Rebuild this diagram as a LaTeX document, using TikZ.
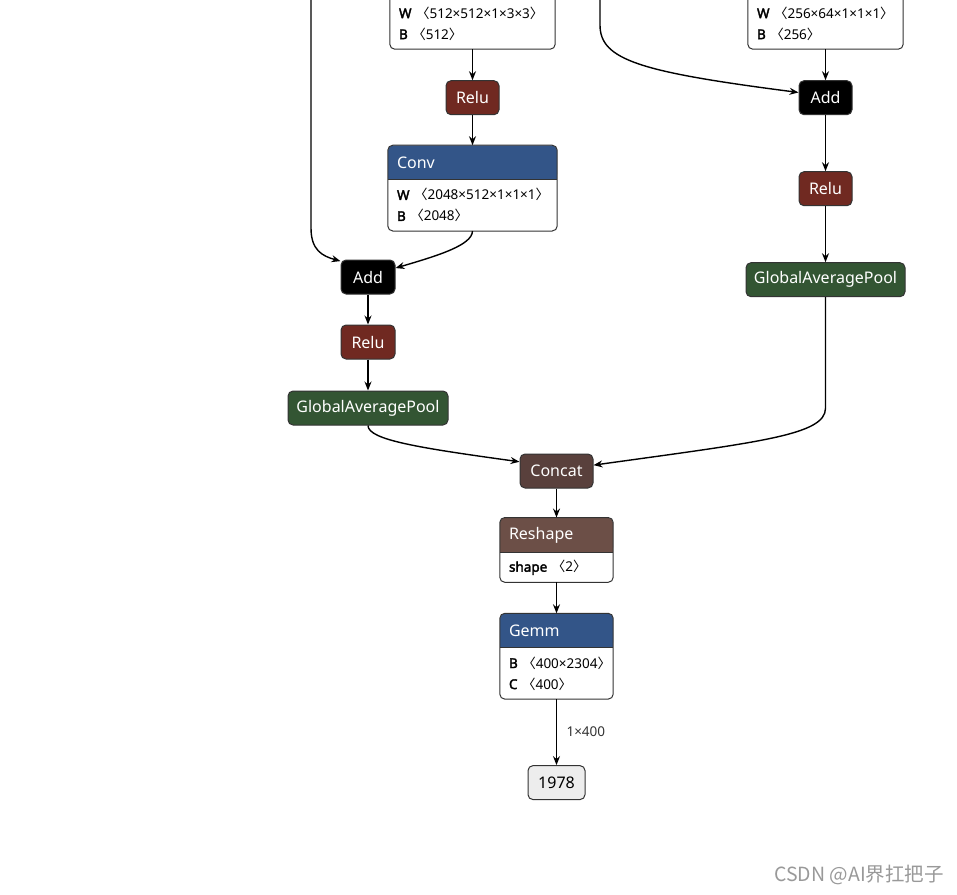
\documentclass[tikz,border=0pt]{standalone}
\usepackage{fontspec}
\setmainfont{Noto Sans}[AutoFakeBold=2.5]
\newfontfamily\cjk{Noto Sans CJK SC}
\usetikzlibrary{arrows.meta, backgrounds, fit, positioning}
\definecolor{convblue}{RGB}{51,85,136}
\definecolor{relured}{RGB}{112,41,33}
\definecolor{poolgreen}{RGB}{51,85,51}
\definecolor{reshapebrown}{RGB}{108,79,71}
\definecolor{concatbrown}{RGB}{89,64,60}
\definecolor{edgegray}{RGB}{51,51,51}
\newcommand{\dimopen}{{\cjk 〈}}
\newcommand{\dimclose}{{\cjk 〉}}

\begin{document}
\begin{tikzpicture}[x=1pt, y=-1pt]
\tikzstyle{op}=[rectangle, rounded corners=5pt, draw=edgegray, line width=1pt, minimum height=34pt, inner xsep=7pt, text=white, font=\fontsize{16}{19}\selectfont]
\tikzstyle{hdr}=[rectangle, rounded corners=5pt, minimum height=34pt, inner xsep=9pt, align=left, text=white, font=\fontsize{16}{19}\selectfont]
\tikzstyle{attr}=[rectangle, inner xsep=9pt, inner ysep=0pt, align=left, font=\fontsize{13.5}{21}\selectfont]
\tikzstyle{frame}=[rectangle, rounded corners=5pt, draw=edgegray, line width=1pt, inner sep=0pt]
\tikzstyle{connect}=[-{Stealth[length=9pt, width=7pt, inset=3pt]}, line width=1.4pt]
  \useasboundingbox (0,0) rectangle (957,894);
  \clip (0,0) rectangle (957,894);
  % left branch
  \node[attr, text width=147pt, minimum height=51pt] (convlattr) at (472.5,23.5) {\textbf{W}~\dimopen512×512×1×3×3\dimclose\\\textbf{B}~\dimopen512\dimclose};
  \coordinate (convltop) at (390,-40);
  \node[frame, fit=(convltop) (convlattr)] {};
  \node[op, fill=relured, minimum width=53pt, below=31pt of convlattr] (relu1) {Relu};
  \node[hdr, fill=convblue, text width=151pt, below=30pt of relu1] (conv) {Conv};
  \begin{pgfonlayer}{background}
    \fill[convblue] (conv.west) rectangle (conv.south east);
  \end{pgfonlayer}
  \node[attr, text width=151pt, minimum height=51pt, below=0pt of conv] (convattr) {\textbf{W}~\dimopen2048×512×1×1×1\dimclose\\\textbf{B}~\dimopen2048\dimclose};
  \draw[edgegray, line width=1pt] (conv.south west) -- (conv.south east);
  \node[frame, fit=(conv) (convattr)] {};
  \node[op, fill=black, minimum width=54pt] (add1) at (368,277) {Add};
  \node[op, fill=relured, minimum width=54pt, below=30pt of add1] (relu2) {Relu};
  \node[op, fill=poolgreen, minimum width=160pt, below=31pt of relu2] (gap1) {GlobalAveragePool};
  % right branch
  \node[attr, text width=137pt, minimum height=51pt] (convrattr) at (825.5,23.5) {\textbf{W}~\dimopen256×64×1×1×1\dimclose\\\textbf{B}~\dimopen256\dimclose};
  \coordinate (convrtop) at (748,-40);
  \node[frame, fit=(convrtop) (convrattr)] {};
  \node[op, fill=black, minimum width=53pt, below=31pt of convrattr] (add2) {Add};
  \node[op, fill=relured, minimum width=53pt, below=56pt of add2] (relu3) {Relu};
  \node[op, fill=poolgreen, minimum width=159pt, below=56pt of relu3] (gap2) {GlobalAveragePool};
  % head
  \node[op, fill=concatbrown, minimum width=73pt] (concat) at (556.5,471) {Concat};
  \node[hdr, fill=reshapebrown, text width=95pt, minimum height=35pt, below=29pt of concat] (reshape) {Reshape};
  \begin{pgfonlayer}{background}
    \fill[reshapebrown] (reshape.west) rectangle (reshape.south east);
  \end{pgfonlayer}
  \node[attr, text width=95pt, minimum height=29pt, below=0pt of reshape] (reshapeattr) {\textbf{shape}~\dimopen2\dimclose};
  \draw[edgegray, line width=1pt] (reshape.south west) -- (reshape.south east);
  \node[frame, fit=(reshape) (reshapeattr)] {};
  \node[hdr, fill=convblue, text width=95pt, below=31pt of reshapeattr] (gemm) {Gemm};
  \begin{pgfonlayer}{background}
    \fill[convblue] (gemm.west) rectangle (gemm.south east);
  \end{pgfonlayer}
  \node[attr, text width=95pt, minimum height=51pt, below=0pt of gemm] (gemmattr) {\textbf{B}~\dimopen400×2304\dimclose\\\textbf{C}~\dimopen400\dimclose};
  \draw[edgegray, line width=1pt] (gemm.south west) -- (gemm.south east);
  \node[frame, fit=(gemm) (gemmattr)] {};
  \node[op, fill=black!7, text=black, minimum width=57pt, below=66pt of gemmattr] (out) {1978};
  \coordinate (resin) at (311,0);
  \coordinate (skipin) at (600,0);
  \path (convlattr) edge [connect] (relu1)
        (relu1) edge [connect] (conv)
        (add1) edge [connect] (relu2)
        (relu2) edge [connect] (gap1)
        (convrattr) edge [connect] (add2)
        (add2) edge [connect] (relu3)
        (relu3) edge [connect] (gap2)
        (concat) edge [connect] (reshape)
        (reshapeattr) edge [connect] (gemm);
  \draw[connect] (resin) -- ++(0,228) .. controls (311,250) and (322,256) .. (add1.150);
  \draw[connect] (convattr.south) .. controls (472,245) and (440,255) .. (add1.18);
  \draw[connect] (gap1.south) .. controls (368,440) and (420,448) .. (concat.166);
  \draw[connect] (skipin) -- ++(0,25) .. controls (600,60) and (640,72) .. (add2.169);
  \draw[connect] (gap2.south) -- ++(0,111) .. controls (825.5,435) and (760,442) .. (concat.9);
  \draw[connect] (gemmattr.south) -- node[right=6pt, text=edgegray, font=\fontsize{13.5}{15}\selectfont] {1×400} (out);
  \node[text=black!40, font=\cjk\fontsize{19.5}{22}\selectfont] (mark) at (859,875) {CSDN @AI界扛把子};
\end{tikzpicture}
\end{document}
